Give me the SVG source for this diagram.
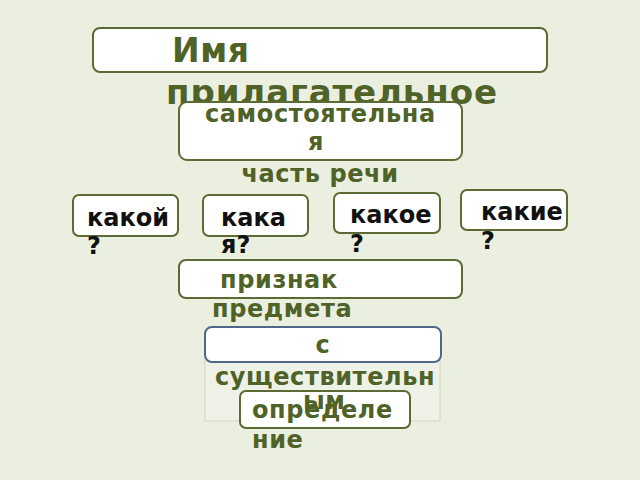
<svg xmlns="http://www.w3.org/2000/svg" width="640" height="480" viewBox="0 0 640 480">
<style>
.box{fill:#ffffff;stroke:#5b6b33;stroke-width:2}
.boxb{fill:#ffffff;stroke:#4f6789;stroke-width:2}
.t{font-family:"DejaVu Sans",sans-serif;font-weight:bold;fill:#4f6228}
.m{font-size:24px;letter-spacing:0.6px}
.k{font-family:"DejaVu Sans",sans-serif;font-weight:bold;fill:#111111;font-size:24px}
</style>
<rect width="640" height="480" fill="#ebefdf"/>
<g id="connectors"></g>
<g id="title">
<rect class="box" x="93" y="28" width="454" height="44" rx="7"/>
<text class="t" font-size="33" x="172" y="62" letter-spacing="0.6">Имя</text>
<text class="t" font-size="34" x="166" y="104" letter-spacing="0.9">прилагательное</text>
</g>
<g id="samost">
<rect class="box" x="179" y="102" width="283" height="58" rx="8"/>
<text class="t m" x="205" y="122">самостоятельна</text>
<text class="t m" x="316" y="150" text-anchor="middle">я</text>
<text class="t m" x="320" y="182" text-anchor="middle">часть речи</text>
</g>
<g id="kakoy">
<rect class="box" x="73" y="195" width="105" height="41" rx="6"/>
<text class="k" x="87" y="226">какой</text>
<text class="k" x="87" y="254">?</text>
</g>
<g id="kakaya">
<rect class="box" x="203" y="195" width="105" height="41" rx="6"/>
<text class="k" x="221" y="226">кака</text>
<text class="k" x="221" y="253">я?</text>
</g>
<g id="kakoe">
<rect class="box" x="334" y="193" width="106" height="40" rx="6"/>
<text class="k" x="350" y="223">какое</text>
<text class="k" x="350" y="252">?</text>
</g>
<g id="kakie">
<rect class="box" x="461" y="190" width="106" height="40" rx="6"/>
<text class="k" x="481" y="220">какие</text>
<text class="k" x="481" y="249">?</text>
</g>
<g id="priznak">
<rect class="box" x="179" y="260" width="283" height="38" rx="7"/>
<text class="t m" x="220" y="288">признак</text>
<text class="t m" x="212" y="317">предмета</text>
</g>
<g id="sushch">
<rect x="205" y="340" width="235" height="81" fill="#eef1e6" stroke="#d2d6ca" stroke-width="1"/>
<rect class="boxb" x="205" y="327" width="236" height="35" rx="7"/>
<text class="t m" x="323" y="353" text-anchor="middle">с</text>
<text class="t m" x="215" y="385">существительн</text>
</g>
<g id="opredelenie">
<rect class="box" x="240" y="391" width="170" height="37" rx="6"/>
<text class="t m" x="252" y="418">определе</text>
<text class="t m" x="252" y="448">ние</text>
</g>
<text class="t m" x="303" y="409">ым</text>
</svg>
